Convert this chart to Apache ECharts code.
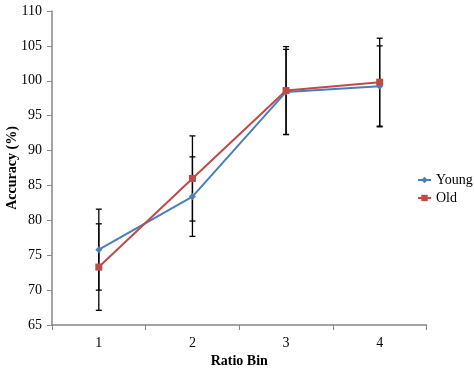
<!DOCTYPE html>
<html><head><meta charset="utf-8">
<script src="https://cdn.jsdelivr.net/npm/echarts@6/dist/echarts.min.js"></script>
<style>html,body{margin:0;padding:0;background:#fff}#c{width:474px;height:369px}</style>
</head><body><div id="c"></div>
<script>
const categories = ['1', '2', '3', '4'];
const youngValues = [75.8, 83.4, 98.4, 99.2];
const youngErrors = [5.8, 5.7, 6.1, 5.8];
const oldValues = [73.3, 86.0, 98.6, 99.8];
const oldErrors = [6.2, 6.1, 6.3, 6.3];
const yTicks = {min: 65, max: 110, interval: 5};

const FONT = '"Liberation Serif", "Times New Roman", serif';
const AXIS = '#868686';

function errData(vals, errs) {
  return vals.map((v, i) => [i, v - errs[i], v + errs[i]]);
}
function renderErr(params, api) {
  const x = api.value(0);
  const lo = api.coord([x, api.value(1)]);
  const hi = api.coord([x, api.value(2)]);
  const hw = 3;
  const st = {stroke: '#000', lineWidth: 1.3};
  return {type: 'group', children: [
    {type: 'line', shape: {x1: lo[0], y1: lo[1], x2: hi[0], y2: hi[1]}, style: st},
    {type: 'line', shape: {x1: lo[0]-hw, y1: lo[1], x2: lo[0]+hw, y2: lo[1]}, style: st},
    {type: 'line', shape: {x1: hi[0]-hw, y1: hi[1], x2: hi[0]+hw, y2: hi[1]}, style: st}
  ]};
}

const chart = echarts.init(document.getElementById('c'));
chart.setOption({
  animation: false,
  backgroundColor: '#fff',
  grid: {left: 52, right: 47.5, top: 11, bottom: 44, containLabel: false, outerBoundsMode: 'none'},
  legend: {
    orient: 'vertical', left: 417, top: 173, itemGap: 4, padding: 0,
    itemWidth: 13, itemHeight: 8,
    data: ['Young', 'Old'],
    textStyle: {fontFamily: FONT, fontSize: 14, color: '#000'}
  },
  xAxis: {
    type: 'category', data: categories, boundaryGap: true,
    name: 'Ratio Bin', nameLocation: 'middle', nameGap: 29, nameMoveOverlap: false,
    nameTextStyle: {fontFamily: FONT, fontSize: 14, fontWeight: 'bold', color: '#000'},
    axisLine: {lineStyle: {color: AXIS, width: 1.5}},
    axisTick: {show: true, alignWithLabel: false, length: 5, lineStyle: {color: AXIS}},
    axisLabel: {fontFamily: FONT, fontSize: 14, color: '#000', margin: 11}
  },
  yAxis: {
    type: 'value', min: yTicks.min, max: yTicks.max, interval: yTicks.interval,
    name: 'Accuracy (%)', nameLocation: 'middle', nameGap: 33, nameMoveOverlap: false,
    nameTextStyle: {fontFamily: FONT, fontSize: 14, fontWeight: 'bold', color: '#000'},
    axisLine: {show: true, lineStyle: {color: AXIS, width: 1.5}},
    axisTick: {show: true, length: 5, lineStyle: {color: AXIS}},
    splitLine: {show: false},
    axisLabel: {fontFamily: FONT, fontSize: 14, color: '#000', margin: 10}
  },
  series: [
    {type: 'custom', name: 'YoungErr', renderItem: renderErr, data: errData(youngValues, youngErrors), z: 1, silent: true},
    {type: 'custom', name: 'OldErr', renderItem: renderErr, data: errData(oldValues, oldErrors), z: 1, silent: true},
    {type: 'line', name: 'Young', data: youngValues, symbol: 'diamond', symbolSize: 7,
     itemStyle: {color: '#4A7EBB'}, lineStyle: {color: '#4A7EBB', width: 2}, z: 3},
    {type: 'line', name: 'Old', data: oldValues, symbol: 'rect', symbolSize: 7,
     itemStyle: {color: '#BE4B48'}, lineStyle: {color: '#BE4B48', width: 2}, z: 4}
  ]
});
</script></body></html>
